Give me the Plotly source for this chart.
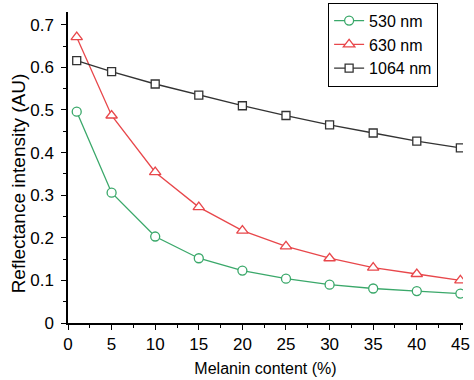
import plotly.graph_objects as go

melanin = [1, 5, 10, 15, 20, 25, 30, 35, 40, 45]
r530 = [0.496, 0.306, 0.203, 0.152, 0.123, 0.104, 0.090, 0.081, 0.075, 0.069]
r630 = [0.671, 0.487, 0.354, 0.272, 0.217, 0.180, 0.152, 0.130, 0.115, 0.100]
r1064 = [0.616, 0.590, 0.561, 0.535, 0.510, 0.487, 0.465, 0.446, 0.427, 0.411]

series = [
    ("530 nm", r530, "#3aa86a", "circle", 9),
    ("630 nm", r630, "#e8474b", "triangle-up", 10),
    ("1064 nm", r1064, "#333333", "square", 8),
]

fig = go.Figure()
for name, vals, col, sym, sz in series:
    fig.add_trace(go.Scatter(
        x=melanin, y=vals, name=name, mode="lines+markers",
        line=dict(color=col, width=1.3),
        marker=dict(symbol=sym, size=sz, color="white",
                    line=dict(color=col, width=1.3)),
    ))

font = dict(family="Liberation Sans, Arial, sans-serif", size=16, color="black")
fig.update_layout(
    width=474, height=380,
    margin=dict(l=68, r=11, t=12, b=57, autoexpand=False),
    paper_bgcolor="white", plot_bgcolor="white",
    font=font,
    showlegend=True,
    legend=dict(
        x=0.937, y=1.03, xanchor="right", yanchor="top",
        bordercolor="black", borderwidth=1, bgcolor="white",
        font=dict(size=16), tracegroupgap=0, itemwidth=30,
    ),
    annotations=[dict(
        text="Reflectance intensity (AU)", textangle=-90,
        xref="paper", yref="paper", x=0, y=0.449,
        xanchor="center", yanchor="middle", xshift=-50,
        showarrow=False, font=dict(size=19),
    )],
)
fig.update_xaxes(
    range=[0, 45.3], tickvals=list(range(0, 50, 5)),
    tickfont=dict(size=17), automargin=False,
    showgrid=False, zeroline=False,
    showline=True, linecolor="black", linewidth=1.5,
    ticks="outside", ticklen=5, tickwidth=1.2, tickcolor="black",
    minor=dict(dtick=2.5, tick0=0, ticks="outside", ticklen=3, tickcolor="black", tickwidth=1.2),
    title=dict(text="Melanin content (%)", font=dict(size=16), standoff=10),
)
fig.update_yaxes(
    range=[0, 0.73], tickvals=[0, 0.1, 0.2, 0.3, 0.4, 0.5, 0.6, 0.7],
    ticktext=["0", "0.1", "0.2", "0.3", "0.4", "0.5", "0.6", "0.7"],
    tickfont=dict(size=17), ticklabelstandoff=4, automargin=False,
    showgrid=False, zeroline=False,
    showline=True, linecolor="black", linewidth=1.5,
    ticks="outside", ticklen=5, tickwidth=1.2, tickcolor="black",
    minor=dict(dtick=0.05, tick0=0, ticks="outside", ticklen=3, tickcolor="black", tickwidth=1.2),
)

fig.write_html("out.html", config={"displayModeBar": False},
               post_script="document.body.style.margin='0';")
